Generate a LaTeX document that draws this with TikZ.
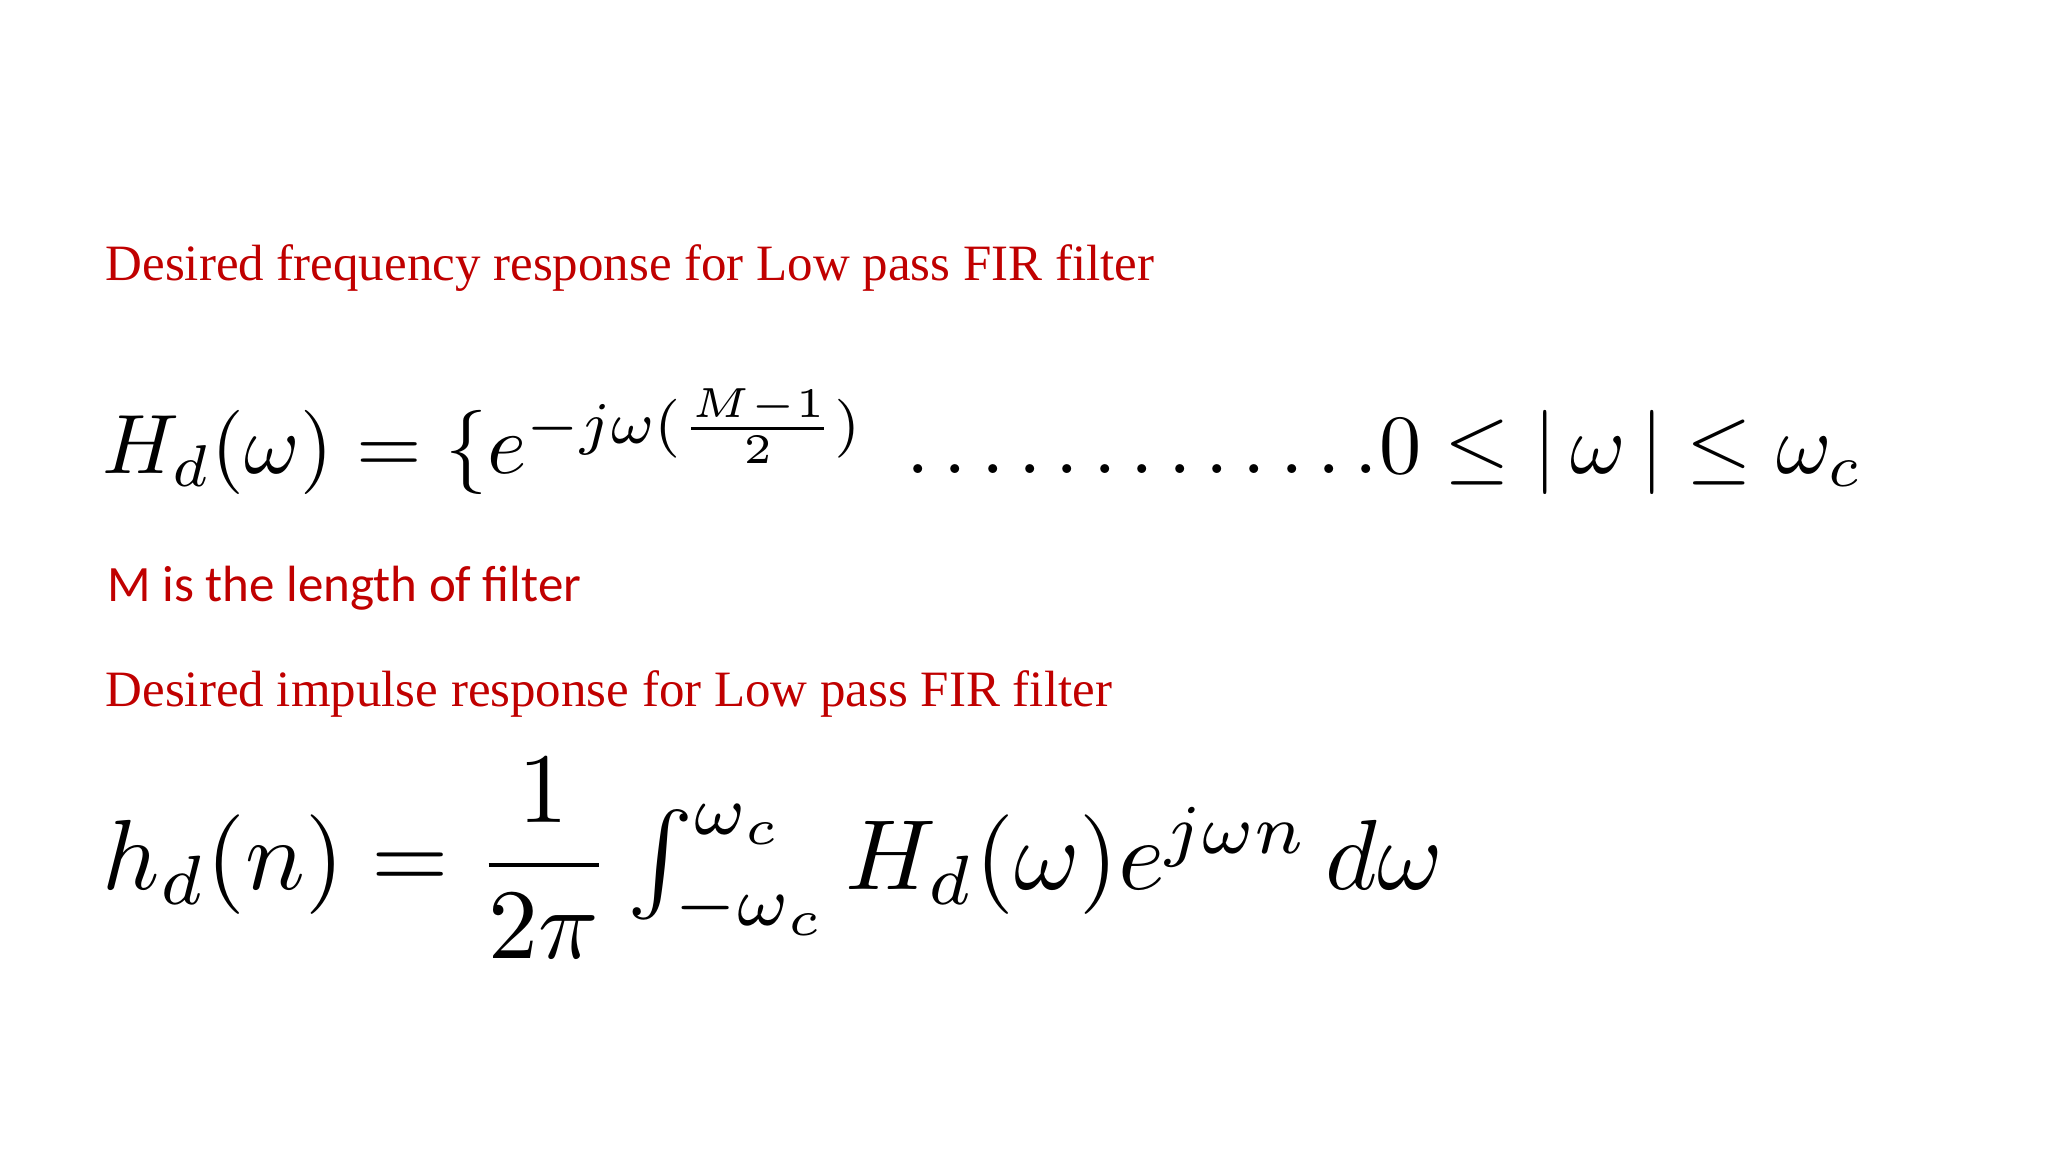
\documentclass[tikz,border=0pt]{standalone}
\usepackage{amsmath}
\usepackage{graphicx}
\usepackage{fontspec}
\setmainfont{Liberation Serif}
\newfontfamily\calib{Carlito}
\definecolor{slidered}{RGB}{192,0,0}
\begin{document}
\begin{tikzpicture}
[
  heading/.style={anchor=base west,text=slidered,font=\fontsize{14.5}{17}\selectfont,inner sep=0pt},
  note/.style={anchor=base west,text=slidered,font=\calib\fontsize{14.5}{17}\selectfont,inner sep=0pt},
  formula/.style={anchor=base west,inner sep=0pt}
]
\useasboundingbox (0,0) rectangle (20.48,11.52);

\node[heading] (freqtitle) at (1.05,8.71) {Desired frequency response for Low pass FIR filter};

\node[formula] (freqeq) at (1.02,6.78) {\resizebox{17.6cm}{!}{$H_d(\omega)=\{e^{-j\omega(\frac{M-1}{2})^{\vphantom{M}}}\;\ldots\ldots\ldots\ldots.0\le|\,\omega\,|\le\omega_c$}};

\node[note] (mnote) at (1.07,5.50) {M is the length of filter};

\node[heading] (imptitle) at (1.05,4.45) {Desired impulse response for Low pass FIR filter};

\node[formula] (impeq) at (1.02,2.62) {\resizebox{13.4cm}{!}{$h_d(n)=\dfrac{1}{2\pi}\int_{-\omega_c}^{\omega_c}H_d(\omega)e^{j\omega n}\,d\omega$}};
\end{tikzpicture}
\end{document}
